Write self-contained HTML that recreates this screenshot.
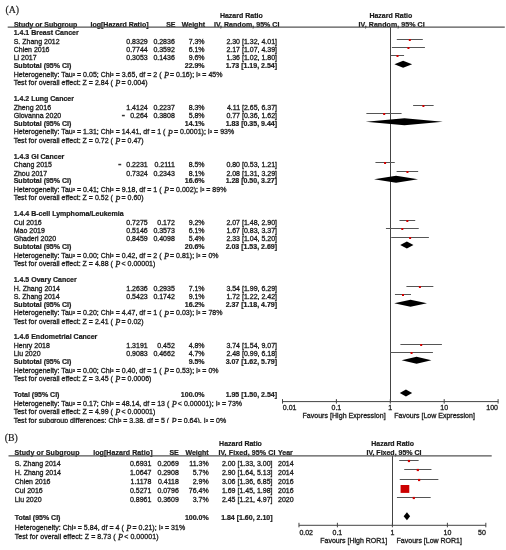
<!DOCTYPE html>
<html><head><meta charset="utf-8"><style>
html,body{margin:0;padding:0;background:#fff;}
body{width:506px;height:550px;overflow:hidden;}
svg{display:block;filter:blur(0.3px);}
svg{font-family:"Liberation Sans",Arial,sans-serif;font-size:7px;fill:#1b1b1b;}
text{stroke:#1b1b1b;stroke-width:0.3px;}
text[font-weight=bold]{stroke-width:0.22px;}
</style></head><body>
<svg width="506" height="550" viewBox="0 0 506 550">
<rect width="506" height="550" fill="#fff"/>
<text x="5.40" y="12.80" font-family="Liberation Serif, serif" font-size="9.8" style="stroke-width:0.2px">(A)</text>
<text x="241.30" y="18.20" text-anchor="middle" font-weight="bold">Hazard Ratio</text>
<text x="390.80" y="18.20" text-anchor="middle" font-weight="bold">Hazard Ratio</text>
<text x="13.90" y="26.60" font-weight="bold">Study or Subgroup</text>
<text x="148.50" y="26.60" text-anchor="end" font-weight="bold">log[Hazard Ratio]</text>
<text x="175.50" y="26.60" text-anchor="end" font-weight="bold">SE</text>
<text x="205.00" y="26.60" text-anchor="end" font-weight="bold">Weight</text>
<text x="214.00" y="26.60" font-weight="bold" textLength="65.4" lengthAdjust="spacing">IV, Random, 95% CI</text>
<text x="358.60" y="26.60" font-weight="bold" textLength="66" lengthAdjust="spacing">IV, Random, 95% CI</text>
<line x1="7.70" y1="27.10" x2="504.80" y2="27.10" stroke="#555" stroke-width="1.2"/>
<line x1="390.50" y1="26.90" x2="390.50" y2="401.60" stroke="#444" stroke-width="1"/>
<text x="13.70" y="35.20" font-weight="bold">1.4.1 Breast Cancer</text>
<text x="13.70" y="44.02">S. Zhang 2012</text>
<text x="147.70" y="44.02" text-anchor="end">0.8329</text>
<text x="174.80" y="44.02" text-anchor="end">0.2836</text>
<text x="204.60" y="44.02" text-anchor="end">7.3%</text>
<text x="277.00" y="44.02" text-anchor="end">2.30 [1.32, 4.01]</text>
<line x1="396.80" y1="39.50" x2="422.81" y2="39.50" stroke="#555" stroke-width="1"/>
<rect x="408.80" y="39.00" width="2.00" height="2.00" fill="#d40000"/>
<text x="13.70" y="52.24">Chien 2016</text>
<text x="147.70" y="52.24" text-anchor="end">0.7744</text>
<text x="174.80" y="52.24" text-anchor="end">0.3592</text>
<text x="204.60" y="52.24" text-anchor="end">6.1%</text>
<text x="277.00" y="52.24" text-anchor="end">2.17 [1.07, 4.39]</text>
<line x1="391.88" y1="47.50" x2="424.93" y2="47.50" stroke="#555" stroke-width="1"/>
<rect x="407.44" y="47.00" width="2.00" height="2.00" fill="#d40000"/>
<text x="13.70" y="60.46">Li 2017</text>
<text x="147.70" y="60.46" text-anchor="end">0.3053</text>
<text x="174.80" y="60.46" text-anchor="end">0.1436</text>
<text x="204.60" y="60.46" text-anchor="end">9.6%</text>
<text x="277.00" y="60.46" text-anchor="end">1.36 [1.02, 1.80]</text>
<line x1="390.76" y1="55.50" x2="404.06" y2="55.50" stroke="#555" stroke-width="1"/>
<rect x="396.50" y="55.00" width="2.00" height="2.00" fill="#d40000"/>
<text x="13.70" y="68.08" font-weight="bold">Subtotal (95% CI)</text>
<text x="204.60" y="68.08" text-anchor="end" font-weight="bold">22.9%</text>
<text x="277.00" y="68.08" text-anchor="end" font-weight="bold">1.73 [1.19, 2.54]</text>
<polygon points="394.37,64.28 403.13,60.78 412.12,64.28 403.13,67.78" fill="#000"/>
<text x="13.70" y="76.90" letter-spacing="0.022">Heterogeneity: Tau² = 0.05; Chi² = 3.65, df = 2 ( <tspan font-family="Liberation Serif, serif" font-style="italic" font-size="8.3" dx="0.4" dy="1.3">P</tspan><tspan dx="1.0" dy="-1.3">= 0.16); I² = 45%</tspan></text>
<text x="13.70" y="85.12" letter-spacing="0.022">Test for overall effect: Z = 2.84 ( <tspan font-family="Liberation Serif, serif" font-style="italic" font-size="8.3" dx="0.4" dy="1.3">P</tspan><tspan dx="1.0" dy="-1.3">= 0.004)</tspan></text>
<text x="13.70" y="100.96" font-weight="bold">1.4.2 Lung Cancer</text>
<text x="13.70" y="109.78">Zheng 2016</text>
<text x="147.70" y="109.78" text-anchor="end">1.4124</text>
<text x="174.80" y="109.78" text-anchor="end">0.2237</text>
<text x="204.60" y="109.78" text-anchor="end">8.3%</text>
<text x="277.00" y="109.78" text-anchor="end">4.11 [2.65, 6.37]</text>
<line x1="413.11" y1="105.50" x2="433.64" y2="105.50" stroke="#555" stroke-width="1"/>
<rect x="422.39" y="105.00" width="2.00" height="2.00" fill="#d40000"/>
<rect x="121.90" y="114.80" width="2.90" height="1.50" fill="#333"/>
<text x="13.70" y="118.00">Giovanna 2020</text>
<text x="147.70" y="118.00" text-anchor="end">0.264</text>
<text x="174.80" y="118.00" text-anchor="end">0.3808</text>
<text x="204.60" y="118.00" text-anchor="end">5.8%</text>
<text x="277.00" y="118.00" text-anchor="end">0.77 [0.36, 1.62]</text>
<line x1="366.38" y1="113.50" x2="401.59" y2="113.50" stroke="#555" stroke-width="1"/>
<rect x="383.18" y="113.00" width="2.00" height="2.00" fill="#d40000"/>
<text x="13.70" y="125.62" font-weight="bold">Subtotal (95% CI)</text>
<text x="204.60" y="125.62" text-anchor="end" font-weight="bold">14.1%</text>
<text x="277.00" y="125.62" text-anchor="end" font-weight="bold">1.83 [0.35, 9.44]</text>
<polygon points="365.73,121.82 404.45,118.32 442.85,121.82 404.45,125.32" fill="#000"/>
<text x="13.70" y="134.44" letter-spacing="0.022">Heterogeneity: Tau² = 1.31; Chi² = 14.41, df = 1 ( <tspan font-family="Liberation Serif, serif" font-style="italic" font-size="8.3" dx="0.4" dy="1.3">P</tspan><tspan dx="1.0" dy="-1.3">= 0.0001); I² = 93%</tspan></text>
<text x="13.70" y="142.66" letter-spacing="0.022">Test for overall effect: Z = 0.72 ( <tspan font-family="Liberation Serif, serif" font-style="italic" font-size="8.3" dx="0.4" dy="1.3">P</tspan><tspan dx="1.0" dy="-1.3">= 0.47)</tspan></text>
<text x="13.70" y="158.50" font-weight="bold">1.4.3 GI Cancer</text>
<rect x="118.30" y="163.80" width="2.90" height="1.50" fill="#333"/>
<text x="13.70" y="167.32">Chang 2015</text>
<text x="147.70" y="167.32" text-anchor="end">0.2231</text>
<text x="174.80" y="167.32" text-anchor="end">0.2111</text>
<text x="204.60" y="167.32" text-anchor="end">8.5%</text>
<text x="277.00" y="167.32" text-anchor="end">0.80 [0.53, 1.21]</text>
<line x1="375.44" y1="162.50" x2="394.76" y2="162.50" stroke="#555" stroke-width="1"/>
<rect x="384.08" y="162.00" width="2.00" height="2.00" fill="#d40000"/>
<text x="13.70" y="175.54">Zhou 2017</text>
<text x="147.70" y="175.54" text-anchor="end">0.7324</text>
<text x="174.80" y="175.54" text-anchor="end">0.2343</text>
<text x="204.60" y="175.54" text-anchor="end">8.1%</text>
<text x="277.00" y="175.54" text-anchor="end">2.08 [1.31, 3.29]</text>
<line x1="396.62" y1="171.50" x2="418.18" y2="171.50" stroke="#555" stroke-width="1"/>
<rect x="406.44" y="171.00" width="2.00" height="2.00" fill="#d40000"/>
<text x="13.70" y="183.16" font-weight="bold">Subtotal (95% CI)</text>
<text x="204.60" y="183.16" text-anchor="end" font-weight="bold">16.6%</text>
<text x="277.00" y="183.16" text-anchor="end" font-weight="bold">1.28 [0.50, 3.27]</text>
<polygon points="374.07,179.36 396.08,175.86 418.03,179.36 396.08,182.86" fill="#000"/>
<text x="13.70" y="191.98" letter-spacing="0.022">Heterogeneity: Tau² = 0.41; Chi² = 9.18, df = 1 ( <tspan font-family="Liberation Serif, serif" font-style="italic" font-size="8.3" dx="0.4" dy="1.3">P</tspan><tspan dx="1.0" dy="-1.3">= 0.002); I² = 89%</tspan></text>
<text x="13.70" y="200.20" letter-spacing="0.022">Test for overall effect: Z = 0.52 ( <tspan font-family="Liberation Serif, serif" font-style="italic" font-size="8.3" dx="0.4" dy="1.3">P</tspan><tspan dx="1.0" dy="-1.3">= 0.60)</tspan></text>
<text x="13.70" y="216.04" font-weight="bold">1.4.4 B-cell Lymphoma/Leukemia</text>
<text x="13.70" y="224.86">Cui 2016</text>
<text x="147.70" y="224.86" text-anchor="end">0.7275</text>
<text x="174.80" y="224.86" text-anchor="end">0.172</text>
<text x="204.60" y="224.86" text-anchor="end">9.2%</text>
<text x="277.00" y="224.86" text-anchor="end">2.07 [1.48, 2.90]</text>
<line x1="399.48" y1="220.50" x2="415.22" y2="220.50" stroke="#555" stroke-width="1"/>
<rect x="406.33" y="220.00" width="2.00" height="2.00" fill="#d40000"/>
<text x="13.70" y="233.08">Mao 2019</text>
<text x="147.70" y="233.08" text-anchor="end">0.5146</text>
<text x="174.80" y="233.08" text-anchor="end">0.3573</text>
<text x="204.60" y="233.08" text-anchor="end">6.1%</text>
<text x="277.00" y="233.08" text-anchor="end">1.67 [0.83, 3.37]</text>
<line x1="385.94" y1="228.50" x2="418.74" y2="228.50" stroke="#555" stroke-width="1"/>
<rect x="401.30" y="228.00" width="2.00" height="2.00" fill="#d40000"/>
<text x="13.70" y="241.30">Ghaderi 2020</text>
<text x="147.70" y="241.30" text-anchor="end">0.8459</text>
<text x="174.80" y="241.30" text-anchor="end">0.4098</text>
<text x="204.60" y="241.30" text-anchor="end">5.4%</text>
<text x="277.00" y="241.30" text-anchor="end">2.33 [1.04, 5.20]</text>
<line x1="391.22" y1="237.50" x2="428.89" y2="237.50" stroke="#555" stroke-width="1"/>
<rect x="409.10" y="237.00" width="2.00" height="2.00" fill="#d40000"/>
<text x="13.70" y="248.92" font-weight="bold">Subtotal (95% CI)</text>
<text x="204.60" y="248.92" text-anchor="end" font-weight="bold">20.6%</text>
<text x="277.00" y="248.92" text-anchor="end" font-weight="bold">2.03 [1.53, 2.69]</text>
<polygon points="400.25,245.12 406.87,241.62 413.46,245.12 406.87,248.62" fill="#000"/>
<text x="13.70" y="257.74" letter-spacing="0.022">Heterogeneity: Tau² = 0.00; Chi² = 0.42, df = 2 ( <tspan font-family="Liberation Serif, serif" font-style="italic" font-size="8.3" dx="0.4" dy="1.3">P</tspan><tspan dx="1.0" dy="-1.3">= 0.81); I² = 0%</tspan></text>
<text x="13.70" y="265.96" letter-spacing="0.022">Test for overall effect: Z = 4.88 ( <tspan font-family="Liberation Serif, serif" font-style="italic" font-size="8.3" dx="0.4" dy="1.3">P</tspan><tspan dx="1.0" dy="-1.3">&lt; 0.00001)</tspan></text>
<text x="13.70" y="281.80" font-weight="bold">1.4.5 Ovary Cancer</text>
<text x="13.70" y="290.62">H. Zhang 2014</text>
<text x="147.70" y="290.62" text-anchor="end">1.2636</text>
<text x="174.80" y="290.62" text-anchor="end">0.2935</text>
<text x="204.60" y="290.62" text-anchor="end">7.1%</text>
<text x="277.00" y="290.62" text-anchor="end">3.54 [1.99, 6.29]</text>
<line x1="406.41" y1="286.50" x2="433.35" y2="286.50" stroke="#555" stroke-width="1"/>
<rect x="418.89" y="286.00" width="2.00" height="2.00" fill="#d40000"/>
<text x="13.70" y="298.84">S. Zhang 2014</text>
<text x="147.70" y="298.84" text-anchor="end">0.5423</text>
<text x="174.80" y="298.84" text-anchor="end">0.1742</text>
<text x="204.60" y="298.84" text-anchor="end">9.1%</text>
<text x="277.00" y="298.84" text-anchor="end">1.72 [1.22, 2.42]</text>
<line x1="394.95" y1="294.50" x2="410.99" y2="294.50" stroke="#555" stroke-width="1"/>
<rect x="401.99" y="294.00" width="2.00" height="2.00" fill="#d40000"/>
<text x="13.70" y="307.06" font-weight="bold">Subtotal (95% CI)</text>
<text x="204.60" y="307.06" text-anchor="end" font-weight="bold">16.2%</text>
<text x="277.00" y="307.06" text-anchor="end" font-weight="bold">2.37 [1.18, 4.79]</text>
<polygon points="394.17,303.26 410.50,299.76 426.97,303.26 410.50,306.76" fill="#000"/>
<text x="13.70" y="315.28" letter-spacing="0.022">Heterogeneity: Tau² = 0.20; Chi² = 4.47, df = 1 ( <tspan font-family="Liberation Serif, serif" font-style="italic" font-size="8.3" dx="0.4" dy="1.3">P</tspan><tspan dx="1.0" dy="-1.3">= 0.03); I² = 78%</tspan></text>
<text x="13.70" y="323.50" letter-spacing="0.022">Test for overall effect: Z = 2.41 ( <tspan font-family="Liberation Serif, serif" font-style="italic" font-size="8.3" dx="0.4" dy="1.3">P</tspan><tspan dx="1.0" dy="-1.3">= 0.02)</tspan></text>
<text x="13.70" y="339.34" font-weight="bold">1.4.6 Endometrial Cancer</text>
<text x="13.70" y="348.16">Henry 2018</text>
<text x="147.70" y="348.16" text-anchor="end">1.3191</text>
<text x="174.80" y="348.16" text-anchor="end">0.452</text>
<text x="204.60" y="348.16" text-anchor="end">4.8%</text>
<text x="277.00" y="348.16" text-anchor="end">3.74 [1.54, 9.07]</text>
<line x1="400.41" y1="344.50" x2="441.92" y2="344.50" stroke="#555" stroke-width="1"/>
<rect x="420.18" y="344.00" width="2.00" height="2.00" fill="#d40000"/>
<text x="13.70" y="356.38">Liu 2020</text>
<text x="147.70" y="356.38" text-anchor="end">0.9083</text>
<text x="174.80" y="356.38" text-anchor="end">0.4662</text>
<text x="204.60" y="356.38" text-anchor="end">4.7%</text>
<text x="277.00" y="356.38" text-anchor="end">2.48 [0.99, 6.18]</text>
<line x1="390.06" y1="352.50" x2="432.93" y2="352.50" stroke="#555" stroke-width="1"/>
<rect x="410.56" y="352.00" width="2.00" height="2.00" fill="#d40000"/>
<text x="13.70" y="364.00" font-weight="bold">Subtotal (95% CI)</text>
<text x="204.60" y="364.00" text-anchor="end" font-weight="bold">9.5%</text>
<text x="277.00" y="364.00" text-anchor="end" font-weight="bold">3.07 [1.62, 5.79]</text>
<polygon points="401.59,360.20 416.56,356.70 431.41,360.20 416.56,363.70" fill="#000"/>
<text x="13.70" y="372.82" letter-spacing="0.022">Heterogeneity: Tau² = 0.00; Chi² = 0.40, df = 1 ( <tspan font-family="Liberation Serif, serif" font-style="italic" font-size="8.3" dx="0.4" dy="1.3">P</tspan><tspan dx="1.0" dy="-1.3">= 0.53); I² = 0%</tspan></text>
<text x="13.70" y="381.04" letter-spacing="0.022">Test for overall effect: Z = 3.45 ( <tspan font-family="Liberation Serif, serif" font-style="italic" font-size="8.3" dx="0.4" dy="1.3">P</tspan><tspan dx="1.0" dy="-1.3">= 0.0006)</tspan></text>
<text x="13.70" y="396.88" font-weight="bold">Total (95% CI)</text>
<text x="204.60" y="396.88" text-anchor="end" font-weight="bold">100.0%</text>
<text x="277.00" y="396.88" text-anchor="end" font-weight="bold">1.95 [1.50, 2.54]</text>
<polygon points="399.79,393.08 405.93,389.58 412.12,393.08 405.93,396.58" fill="#000"/>
<text x="13.70" y="405.70" letter-spacing="0.022">Heterogeneity: Tau² = 0.17; Chi² = 48.14, df = 13 ( <tspan font-family="Liberation Serif, serif" font-style="italic" font-size="8.3" dx="0.4" dy="1.3">P</tspan><tspan dx="1.0" dy="-1.3">&lt; 0.00001); I² = 73%</tspan></text>
<text x="13.70" y="413.92" letter-spacing="0.022">Test for overall effect: Z = 4.99 ( <tspan font-family="Liberation Serif, serif" font-style="italic" font-size="8.3" dx="0.4" dy="1.3">P</tspan><tspan dx="1.0" dy="-1.3">&lt; 0.00001)</tspan></text>
<text x="13.70" y="423.00" letter-spacing="0.022">Test for subgroup differences: Chi² = 3.38, df = 5 ( <tspan font-family="Liberation Serif, serif" font-style="italic" font-size="8.3" dx="0.4" dy="1.3">P</tspan><tspan dx="1.0" dy="-1.3">= 0.64), I² = 0%</tspan></text>
<line x1="282.50" y1="401.60" x2="498.20" y2="401.60" stroke="#444" stroke-width="1"/>
<line x1="282.50" y1="399.10" x2="282.50" y2="403.60" stroke="#444" stroke-width="1"/>
<line x1="336.40" y1="399.10" x2="336.40" y2="403.60" stroke="#444" stroke-width="1"/>
<line x1="390.30" y1="399.10" x2="390.30" y2="403.60" stroke="#444" stroke-width="1"/>
<line x1="444.20" y1="399.10" x2="444.20" y2="403.60" stroke="#444" stroke-width="1"/>
<line x1="498.10" y1="399.10" x2="498.10" y2="403.60" stroke="#444" stroke-width="1"/>
<text x="282.80" y="409.90">0.01</text>
<text x="336.40" y="409.90" text-anchor="middle">0.1</text>
<text x="390.30" y="409.90" text-anchor="middle">1</text>
<text x="444.20" y="409.90" text-anchor="middle">10</text>
<text x="498.00" y="409.90" text-anchor="end">100</text>
<text x="302.40" y="417.50" textLength="83.2" lengthAdjust="spacing">Favours [High Expression]</text>
<text x="394.30" y="417.50">Favours [Low Expression]</text>
<rect x="0" y="423" width="280" height="8" fill="#fff"/>
<text x="4.80" y="440.60" font-family="Liberation Serif, serif" font-size="9.8" style="stroke-width:0.2px">(B)</text>
<text x="240.50" y="445.80" text-anchor="middle" font-weight="bold">Hazard Ratio</text>
<text x="392.70" y="445.80" text-anchor="middle" font-weight="bold">Hazard Ratio</text>
<text x="14.50" y="455.20" font-weight="bold" textLength="65" lengthAdjust="spacing">Study or Subgroup</text>
<text x="152.50" y="455.20" text-anchor="end" font-weight="bold" textLength="59.3" lengthAdjust="spacing">log[Hazard Ratio]</text>
<text x="178.80" y="455.20" text-anchor="end" font-weight="bold">SE</text>
<text x="208.70" y="455.20" text-anchor="end" font-weight="bold">Weight</text>
<text x="218.40" y="455.20" font-weight="bold" textLength="57" lengthAdjust="spacing">IV, Fixed, 95% CI</text>
<text x="278.00" y="455.20" font-weight="bold">Year</text>
<text x="394.00" y="455.20" text-anchor="middle" font-weight="bold">IV, Fixed, 95% CI</text>
<line x1="8.50" y1="455.90" x2="491.70" y2="455.90" stroke="#555" stroke-width="1.2"/>
<line x1="392.50" y1="455.90" x2="392.50" y2="525.30" stroke="#444" stroke-width="1"/>
<text x="14.70" y="465.50">S. Zhang 2014</text>
<text x="151.40" y="465.50" text-anchor="end">0.6931</text>
<text x="178.80" y="465.50" text-anchor="end">0.2069</text>
<text x="208.70" y="465.50" text-anchor="end">11.3%</text>
<text x="272.50" y="465.50" text-anchor="end">2.00 [1.33, 3.00]</text>
<text x="278.00" y="465.50">2014</text>
<line x1="399.21" y1="460.50" x2="418.64" y2="460.50" stroke="#555" stroke-width="1"/>
<rect x="407.86" y="459.90" width="2.20" height="2.20" fill="#d40000"/>
<text x="14.70" y="474.72">H. Zhang 2014</text>
<text x="151.40" y="474.72" text-anchor="end">1.0647</text>
<text x="178.80" y="474.72" text-anchor="end">0.2908</text>
<text x="208.70" y="474.72" text-anchor="end">5.7%</text>
<text x="272.50" y="474.72" text-anchor="end">2.90 [1.64, 5.13]</text>
<text x="278.00" y="474.72">2014</text>
<line x1="404.22" y1="469.50" x2="431.46" y2="469.50" stroke="#555" stroke-width="1"/>
<rect x="416.73" y="468.90" width="2.20" height="2.20" fill="#d40000"/>
<text x="14.70" y="483.94">Chien 2016</text>
<text x="151.40" y="483.94" text-anchor="end">1.1178</text>
<text x="178.80" y="483.94" text-anchor="end">0.4118</text>
<text x="208.70" y="483.94" text-anchor="end">2.9%</text>
<text x="272.50" y="483.94" text-anchor="end">3.06 [1.36, 6.85]</text>
<text x="278.00" y="483.94">2016</text>
<line x1="399.74" y1="479.50" x2="438.36" y2="479.50" stroke="#555" stroke-width="1"/>
<rect x="418.01" y="478.90" width="2.20" height="2.20" fill="#d40000"/>
<text x="14.70" y="493.16">Cui 2016</text>
<text x="151.40" y="493.16" text-anchor="end">0.5271</text>
<text x="178.80" y="493.16" text-anchor="end">0.0796</text>
<text x="208.70" y="493.16" text-anchor="end">76.4%</text>
<text x="272.50" y="493.16" text-anchor="end">1.69 [1.45, 1.98]</text>
<text x="278.00" y="493.16">2016</text>
<line x1="401.28" y1="488.50" x2="408.72" y2="488.50" stroke="#555" stroke-width="1"/>
<rect x="400.58" y="485.00" width="8.70" height="7.90" fill="#cc0000"/>
<text x="14.70" y="502.38">Liu 2020</text>
<text x="151.40" y="502.38" text-anchor="end">0.8961</text>
<text x="178.80" y="502.38" text-anchor="end">0.3609</text>
<text x="208.70" y="502.38" text-anchor="end">3.7%</text>
<text x="272.50" y="502.38" text-anchor="end">2.45 [1.21, 4.97]</text>
<text x="278.00" y="502.38">2020</text>
<line x1="396.95" y1="497.50" x2="430.70" y2="497.50" stroke="#555" stroke-width="1"/>
<rect x="412.70" y="496.90" width="2.20" height="2.20" fill="#d40000"/>
<text x="14.70" y="520.10" font-weight="bold">Total (95% CI)</text>
<text x="208.70" y="520.10" text-anchor="end" font-weight="bold">100.0%</text>
<text x="272.50" y="520.10" text-anchor="end" font-weight="bold">1.84 [1.60, 2.10]</text>
<polygon points="403.63,516.30 406.96,512.30 410.12,516.30 406.96,520.30" fill="#000"/>
<text x="14.70" y="529.90" letter-spacing="0.04">Heterogeneity: Chi² = 5.84, df = 4 ( <tspan font-family="Liberation Serif, serif" font-style="italic" font-size="8.3" dx="0.4" dy="1.3">P</tspan><tspan dx="1.0" dy="-1.3">= 0.21); I² = 31%</tspan></text>
<text x="14.70" y="538.90" letter-spacing="0.07">Test for overall effect: Z = 8.73 ( <tspan font-family="Liberation Serif, serif" font-style="italic" font-size="8.3" dx="0.4" dy="1.3">P</tspan><tspan dx="1.0" dy="-1.3">&lt; 0.00001)</tspan></text>
<line x1="298.96" y1="525.30" x2="485.84" y2="525.30" stroke="#444" stroke-width="1"/>
<line x1="298.96" y1="522.80" x2="298.96" y2="527.30" stroke="#444" stroke-width="1"/>
<line x1="337.40" y1="522.80" x2="337.40" y2="527.30" stroke="#444" stroke-width="1"/>
<line x1="392.40" y1="522.80" x2="392.40" y2="527.30" stroke="#444" stroke-width="1"/>
<line x1="447.40" y1="522.80" x2="447.40" y2="527.30" stroke="#444" stroke-width="1"/>
<line x1="485.84" y1="522.80" x2="485.84" y2="527.30" stroke="#444" stroke-width="1"/>
<text x="299.40" y="534.70">0.02</text>
<text x="337.40" y="534.70" text-anchor="middle">0.1</text>
<text x="392.40" y="534.70" text-anchor="middle">1</text>
<text x="447.40" y="534.70" text-anchor="middle">10</text>
<text x="485.80" y="534.70" text-anchor="end">50</text>
<text x="387.20" y="543.40" text-anchor="end">Favours [High ROR1]</text>
<text x="396.60" y="543.40">Favours [Low ROR1]</text>
</svg>
</body></html>
